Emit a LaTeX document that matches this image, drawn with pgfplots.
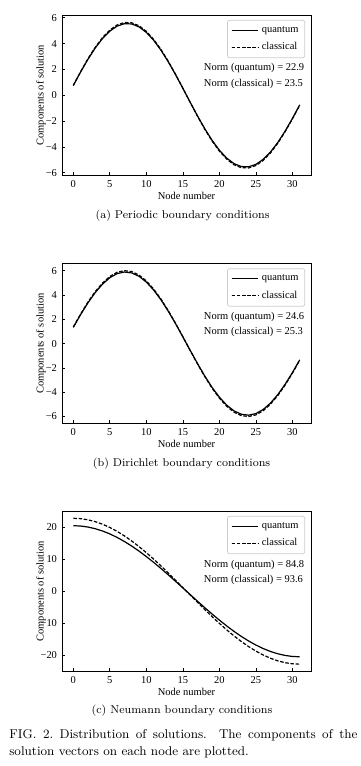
\documentclass[border=0pt]{standalone}
\usepackage{fontspec}
\usepackage{pgfplots}
\usepackage{pgfplotstable}
\pgfplotsset{compat=1.18}
\newfontfamily\tnr{Liberation Serif}

\pgfplotstableread{
i q c
0 0.752 0.764
1 1.800 1.829
2 2.780 2.825
3 3.656 3.715
4 4.395 4.466
5 4.968 5.048
6 5.356 5.443
7 5.543 5.633
8 5.522 5.611
9 5.295 5.381
10 4.868 4.947
11 4.259 4.328
12 3.490 3.547
13 2.591 2.633
14 1.595 1.621
15 0.538 0.547
16 -0.538 -0.547
17 -1.595 -1.621
18 -2.591 -2.633
19 -3.490 -3.547
20 -4.259 -4.328
21 -4.868 -4.947
22 -5.295 -5.381
23 -5.522 -5.611
24 -5.543 -5.633
25 -5.356 -5.443
26 -4.968 -5.048
27 -4.395 -4.466
28 -3.656 -3.715
29 -2.780 -2.825
30 -1.800 -1.829
31 -0.752 -0.764
}\periodic

\pgfplotstableread{
i q c
0 1.338 1.363
1 2.386 2.431
2 3.350 3.413
3 4.196 4.274
4 4.891 4.982
5 5.421 5.522
6 5.757 5.865
7 5.888 5.998
8 5.813 5.922
9 5.534 5.638
10 5.061 5.156
11 4.407 4.489
12 3.601 3.668
13 2.666 2.716
14 1.638 1.669
15 0.553 0.563
16 -0.553 -0.563
17 -1.638 -1.669
18 -2.666 -2.716
19 -3.601 -3.668
20 -4.407 -4.489
21 -5.061 -5.156
22 -5.534 -5.638
23 -5.813 -5.922
24 -5.888 -5.998
25 -5.757 -5.865
26 -5.421 -5.522
27 -4.891 -4.982
28 -4.196 -4.274
29 -3.350 -3.413
30 -2.386 -2.431
31 -1.338 -1.363
}\dirichlet

\pgfplotstableread{
i q c
0 20.400 22.700
1 20.295 22.584
2 19.982 22.235
3 19.464 21.659
4 18.747 20.860
5 17.837 19.848
6 16.744 18.631
7 15.479 17.224
8 14.055 15.639
9 12.487 13.895
10 10.791 12.007
11 8.984 9.997
12 7.085 7.884
13 5.113 5.690
14 3.089 3.437
15 1.033 1.150
16 -1.033 -1.150
17 -3.089 -3.437
18 -5.113 -5.690
19 -7.085 -7.884
20 -8.984 -9.997
21 -10.791 -12.007
22 -12.487 -13.895
23 -14.055 -15.639
24 -15.479 -17.224
25 -16.744 -18.631
26 -17.837 -19.848
27 -18.747 -20.860
28 -19.464 -21.659
29 -19.982 -22.235
30 -20.295 -22.584
31 -20.400 -22.700
}\neumann

\pgfplotsset{
  myaxis/.style={
    scale only axis,
    width=176pt, height=113.4pt,
    anchor=north west,
    xmin=-1.55, xmax=32.55,
    xtick={0,5,10,15,20,25,30},
    xticklabels={0,5,10,15,20,25,30},
    tick pos=left,
    tick align=inside,
    major tick length=2.4pt,
    every tick/.style={black, line width=0.5pt},
    axis line style={line width=0.6pt},
    font=\tnr\fontsize{7.4}{8.8}\selectfont,
    tick label style={font=\tnr\fontsize{7.4}{8.8}\selectfont},
    xlabel={Node number},
    ylabel={Components of solution},
    xlabel style={at={(axis description cs:0.5,-0.125)}, anchor=center},
    ylabel style={at={(axis description cs:-0.084,0.5)}, anchor=center},
    legend style={at={(0.976,0.969)}, anchor=north east, draw=black!20,
      rounded corners=1.5pt, line width=0.5pt,
      font=\tnr\fontsize{7.4}{8.8}\selectfont,
      inner xsep=2.4pt, inner ysep=2.2pt, row sep=1.8pt},
    legend cell align=left,
    legend image code/.code={\path (0pt,0pt) -- (19pt,0pt);\draw[#1] (0pt,0pt) -- (15pt,0pt);},
    qline/.style={black, line width=0.85pt},
    cline/.style={black, line width=0.85pt, dash pattern=on 2.5pt off 1.2pt},
  }
}

\begin{document}
\begin{tikzpicture}
\path[use as bounding box] (0pt,0pt) rectangle (254.4pt,-541.3pt);

% (a) Periodic
\begin{axis}[myaxis, at={(43.8pt,-10.6pt)},
  ymin=-6.215, ymax=6.215,
  ytick={-6,-4,-2,0,2,4,6},
  yticklabels={−6,−4,−2,0,2,4,6}]
\addplot[qline] table[x=i,y=q]{\periodic};
\addplot[cline] table[x=i,y=c]{\periodic};
\legend{quantum, classical}
\node[anchor=west, font=\tnr\fontsize{7.4}{8.8}\selectfont] at (axis description cs:0.55,0.668) {Norm (quantum) = 22.9};
\node[anchor=west, font=\tnr\fontsize{7.4}{8.8}\selectfont] at (axis description cs:0.55,0.570) {Norm (classical) = 23.5};
\end{axis}
\node[font=\fontsize{8}{10}\selectfont] at (129pt,-152.7pt) {(a) Periodic boundary conditions};

% (b) Dirichlet
\begin{axis}[myaxis, at={(43.8pt,-186.1pt)},
  ymin=-6.6, ymax=6.6,
  ytick={-6,-4,-2,0,2,4,6},
  yticklabels={−6,−4,−2,0,2,4,6}]
\addplot[qline] table[x=i,y=q]{\dirichlet};
\addplot[cline] table[x=i,y=c]{\dirichlet};
\legend{quantum, classical}
\node[anchor=west, font=\tnr\fontsize{7.4}{8.8}\selectfont] at (axis description cs:0.55,0.668) {Norm (quantum) = 24.6};
\node[anchor=west, font=\tnr\fontsize{7.4}{8.8}\selectfont] at (axis description cs:0.55,0.570) {Norm (classical) = 25.3};
\end{axis}
\node[font=\fontsize{8}{10}\selectfont] at (128.3pt,-327.4pt) {(b) Dirichlet boundary conditions};

% (c) Neumann
\begin{axis}[myaxis, at={(43.8pt,-361.1pt)},
  ymin=-24.97, ymax=24.97,
  ytick={-20,-10,0,10,20},
  yticklabels={−20,−10,0,10,20}]
\addplot[qline] table[x=i,y=q]{\neumann};
\addplot[cline] table[x=i,y=c]{\neumann};
\legend{quantum, classical}
\node[anchor=west, font=\tnr\fontsize{7.4}{8.8}\selectfont] at (axis description cs:0.55,0.665) {Norm (quantum) = 84.8};
\node[anchor=west, font=\tnr\fontsize{7.4}{8.8}\selectfont] at (axis description cs:0.55,0.568) {Norm (classical) = 93.6};
\end{axis}
\node[font=\fontsize{8}{10}\selectfont] at (128.6pt,-502.2pt) {(c) Neumann boundary conditions};

\node[anchor=north west, inner sep=0pt, text width=246pt, align=justify,
  font=\fontsize{9}{12}\selectfont] at (6.4pt,-515.6pt)
  {FIG.~2.\enspace Distribution of solutions. The components of the solution vectors on each node are plotted.};
\end{tikzpicture}
\end{document}
